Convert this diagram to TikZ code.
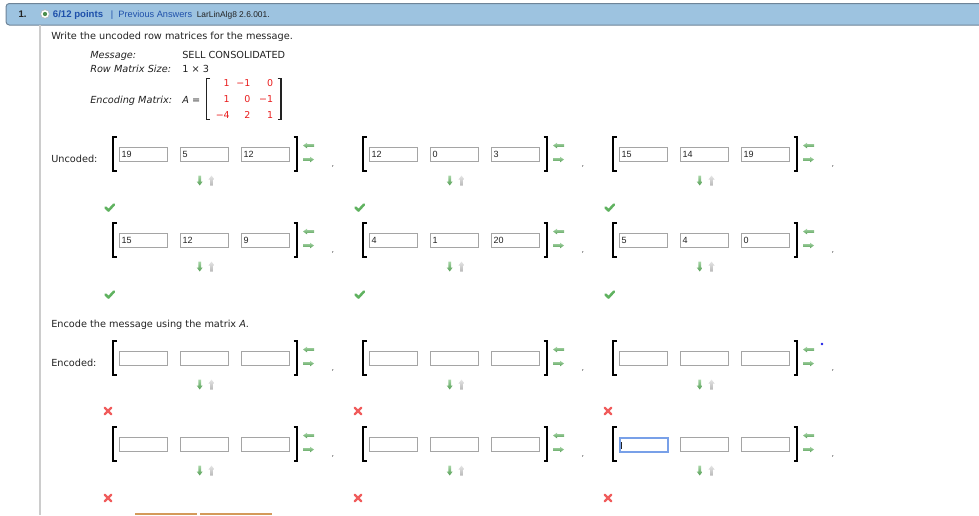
\documentclass[tikz,border=0pt]{standalone}
\usepackage{fontspec}
\setmainfont{DejaVu Sans}[ItalicFont=DejaVu Sans Oblique, BoldFont=DejaVu Sans Bold]
\newfontfamily\arialf{Liberation Sans}
\definecolor{hdrfill}{RGB}{157,195,224}
\definecolor{hdrline}{RGB}{110,132,152}
\definecolor{vline}{RGB}{204,204,204}
\definecolor{boxgray}{RGB}{165,165,165}
\definecolor{txt}{RGB}{34,34,34}
\definecolor{linkblue}{RGB}{30,80,170}
\definecolor{matred}{RGB}{232,28,28}
\definecolor{gdark}{RGB}{84,158,84}
\definecolor{glight}{RGB}{168,214,168}
\definecolor{gcheck}{RGB}{96,178,96}
\definecolor{xred}{RGB}{240,92,92}
\definecolor{ulight}{RGB}{228,228,228}
\definecolor{udark}{RGB}{185,185,185}
\definecolor{focus}{RGB}{120,160,232}
\definecolor{orangeline}{RGB}{212,154,90}
\definecolor{dotblue}{RGB}{30,30,230}
\tikzset{
 body/.style={inner sep=0pt, anchor=base west, text=txt, font=\fontsize{7.3pt}{9pt}\selectfont},
 ibody/.style={inner sep=0pt, anchor=base west, text=txt, font=\fontsize{7.3pt}{9pt}\selectfont\itshape},
 hdr/.style={inner sep=0pt, anchor=base west, font=\arialf\fontsize{6.9pt}{9pt}\selectfont},
 hdrs/.style={inner sep=0pt, anchor=base west, font=\arialf\fontsize{6.3pt}{9pt}\selectfont},
 hdrb/.style={inner sep=0pt, anchor=base west, font=\arialf\bfseries\fontsize{7.2pt}{9pt}\selectfont},
 ment/.style={inner sep=0pt, anchor=base east, text=matred, font=\fontsize{7.1pt}{9pt}\selectfont},
 inbox/.style={draw=boxgray, line width=0.8pt, fill=white, anchor=north west, minimum width=36pt, minimum height=10.5pt, text width=33pt, inner xsep=1.5pt, inner ysep=0pt, align=left, text=txt, font=\arialf\fontsize{6.75pt}{8pt}\selectfont},
 brk/.style={draw=black, line width=1.3pt},
 mbrk/.style={draw=txt, line width=0.9pt},
 garrow/.style={top color=glight, bottom color=gdark, draw=none},
 uarrow/.style={top color=ulight, bottom color=udark, draw=none},
 ok/.style={draw=gcheck, line width=1.9pt, line cap=round, line join=round},
 bad/.style={draw=xred, line width=1.7pt, line cap=round},
 commamark/.style={inner sep=0pt, anchor=base, text=black!65, font=\fontsize{6pt}{7pt}\selectfont},
 focusbox/.style={draw=focus, line width=1.4pt},
}
\newcommand\mkLeft[2]{\path[garrow] ({#1-5.5},{#2}) -- ({#1-1.5},{#2-2.8}) -- ({#1-1.5},{#2-1.4}) -- ({#1+5.5},{#2-1.4}) -- ({#1+5.5},{#2+1.4}) -- ({#1-1.5},{#2+1.4}) -- ({#1-1.5},{#2+2.8}) -- cycle;}
\newcommand\mkRight[2]{\path[garrow] ({#1+5.5},{#2}) -- ({#1+1.5},{#2-2.8}) -- ({#1+1.5},{#2-1.4}) -- ({#1-5.5},{#2-1.4}) -- ({#1-5.5},{#2+1.4}) -- ({#1+1.5},{#2+1.4}) -- ({#1+1.5},{#2+2.8}) -- cycle;}
\newcommand\mkDown[2]{\path[garrow] ({#1-1.4},{#2-5}) -- ({#1+1.4},{#2-5}) -- ({#1+1.4},{#2+1}) -- ({#1+3},{#2+1}) -- ({#1},{#2+5}) -- ({#1-3},{#2+1}) -- ({#1-1.4},{#2+1}) -- cycle;}
\newcommand\mkUp[2]{\path[uarrow] ({#1-1.4},{#2+5}) -- ({#1+1.4},{#2+5}) -- ({#1+1.4},{#2-1}) -- ({#1+3},{#2-1}) -- ({#1},{#2-5}) -- ({#1-3},{#2-1}) -- ({#1-1.4},{#2-1}) -- cycle;}
\newcommand\mkCheck[2]{\draw[ok] ({#1-4},{#2}) -- ({#1-1},{#2+3}) -- ({#1+4.5},{#2-3});}
\newcommand\mkCross[2]{\draw[bad] ({#1-3.3},{#2-3.3}) -- ({#1+3.3},{#2+3.3}) ({#1-3.3},{#2+3.3}) -- ({#1+3.3},{#2-3.3});}
% #1 extra style of first box, #2 name, #3 x offset, #4 top y, #5-#7 entries
\newcommand\mkGroup[7][]{%
 \node[inbox,#1] (#2a) at ({119+#3},#4) {#5};
 \node[inbox] (#2b) at ({180+#3},#4) {#6};
 \node[inbox] (#2c) at ({241+#3},#4) {#7};
 \draw[brk] ({116.5+#3},{#4-10}) -- ({113+#3},{#4-10}) -- ({113+#3},{#4+24}) -- ({116.5+#3},{#4+24});
 \draw[brk] ({293.5+#3},{#4-10}) -- ({297+#3},{#4-10}) -- ({297+#3},{#4+24}) -- ({293.5+#3},{#4+24});
 \mkLeft{308.5+#3}{#4-1.5}
 \mkRight{308.5+#3}{#4+12.5}
 \mkDown{199.7+#3}{#4+33.5}
 \mkUp{211.5+#3}{#4+33.5}
 \node[commamark] (#2comma) at ({333+#3},{#4+19.5}) {,};
}
\begin{document}
\begin{tikzpicture}[x=0.75pt,y=-0.75pt]
\useasboundingbox (0,0) rectangle (979,515);
\clip (0,0) rectangle (979,515);
% header bar
\draw[fill=hdrfill, draw=hdrline, line width=0.75pt, rounded corners=2.5pt] (990,3.5) -- (6,3.5) -- (6,25) -- (990,25);
\node[hdrb, text=txt] (qnum) at (18.3,17.5) {1.};
\node[circle, draw=black!30, fill=white, inner sep=0pt, minimum size=6.5pt] (icon) at (45,14) {};
\node[circle, fill=gcheck!80!black, inner sep=0pt, minimum size=3.2pt] (icondot) at (icon.center) {};
\node[hdrb, text=linkblue] (pts) at (52.7,17.5) {6/12 points};
\node[hdr, text=linkblue] (prev) at (110.5,17.5) {|\hspace{4pt}Previous Answers};
\node[hdrs, text=txt] (ref) at (196.5,17.5) {LarLinAlg8 2.6.001.};
% left rule
\draw[vline, line width=1.1pt] (40,25) -- (40,515);
% intro
\node[body] (intro) at (51,39.3) {Write the uncoded row matrices for the message.};
\node[ibody] (lmsg) at (90,58.7) {Message:};
\node[body] (msg) at (182,58.7) {SELL CONSOLIDATED};
\node[ibody] (lsize) at (90,72.7) {Row Matrix Size:};
\node[body] (size) at (182,72.7) {1 × 3};
\node[ibody] (lenc) at (90,103.3) {Encoding Matrix:};
\node[body] (aeq) at (182,103.3) {\textit{A} =};
% matrix A
\draw[mbrk] (210,78.5) -- (206.5,78.5) -- (206.5,119.5) -- (210,119.5);
\draw[mbrk] (277.5,78.5) -- (281,78.5) -- (281,119.5) -- (277.5,119.5);
\node[ment] (m11) at (230,86.7) {1};
\node[ment] (m12) at (250.7,86.7) {−1};
\node[ment] (m13) at (273.3,86.7) {0};
\node[ment] (m21) at (230,102.7) {1};
\node[ment] (m22) at (250.7,102.7) {0};
\node[ment] (m23) at (273.3,102.7) {−1};
\node[ment] (m31) at (230,118.3) {−4};
\node[ment] (m32) at (250.7,118.3) {2};
\node[ment] (m33) at (273.3,118.3) {1};
% uncoded
\node[body] (lunc) at (51,162.7) {Uncoded:};
\mkGroup{ua}{0}{147}{19}{5}{12}
\mkGroup{ub}{250}{147}{12}{0}{3}
\mkGroup{uc}{500}{147}{15}{14}{19}
\mkCheck{109.5}{207.5}
\mkCheck{359.5}{207.5}
\mkCheck{609.5}{207.5}
\mkGroup{va}{0}{233}{15}{12}{9}
\mkGroup{vb}{250}{233}{4}{1}{20}
\mkGroup{vc}{500}{233}{5}{4}{0}
\mkCheck{109.5}{294.5}
\mkCheck{359.5}{294.5}
\mkCheck{609.5}{294.5}
% encoded
\node[body] (encq) at (51,327.3) {Encode the message using the matrix \textit{A}.};
\node[body] (lenc2) at (51,366) {Encoded:};
\mkGroup{ea}{0}{351}{}{}{}
\mkGroup{eb}{250}{351}{}{}{}
\mkGroup{ec}{500}{351}{}{}{}
\mkCross{108}{411}
\mkCross{358}{411}
\mkCross{608}{411}
\mkGroup{fa}{0}{437}{}{}{}
\mkGroup{fb}{250}{437}{}{}{}
\mkGroup[focusbox]{fc}{500}{437}{}{}{}
\draw[txt, line width=0.75pt] (621.7,442) -- (621.7,449.3);
\mkCross{108}{498}
\mkCross{358}{498}
\mkCross{608}{498}
\fill[dotblue] (822,344) circle[radius=1.4];
% bottom orange rules
\draw[orangeline, line width=1.2pt] (135,514) -- (197,514);
\draw[orangeline, line width=1.2pt] (200,514) -- (272,514);
\end{tikzpicture}
\end{document}
